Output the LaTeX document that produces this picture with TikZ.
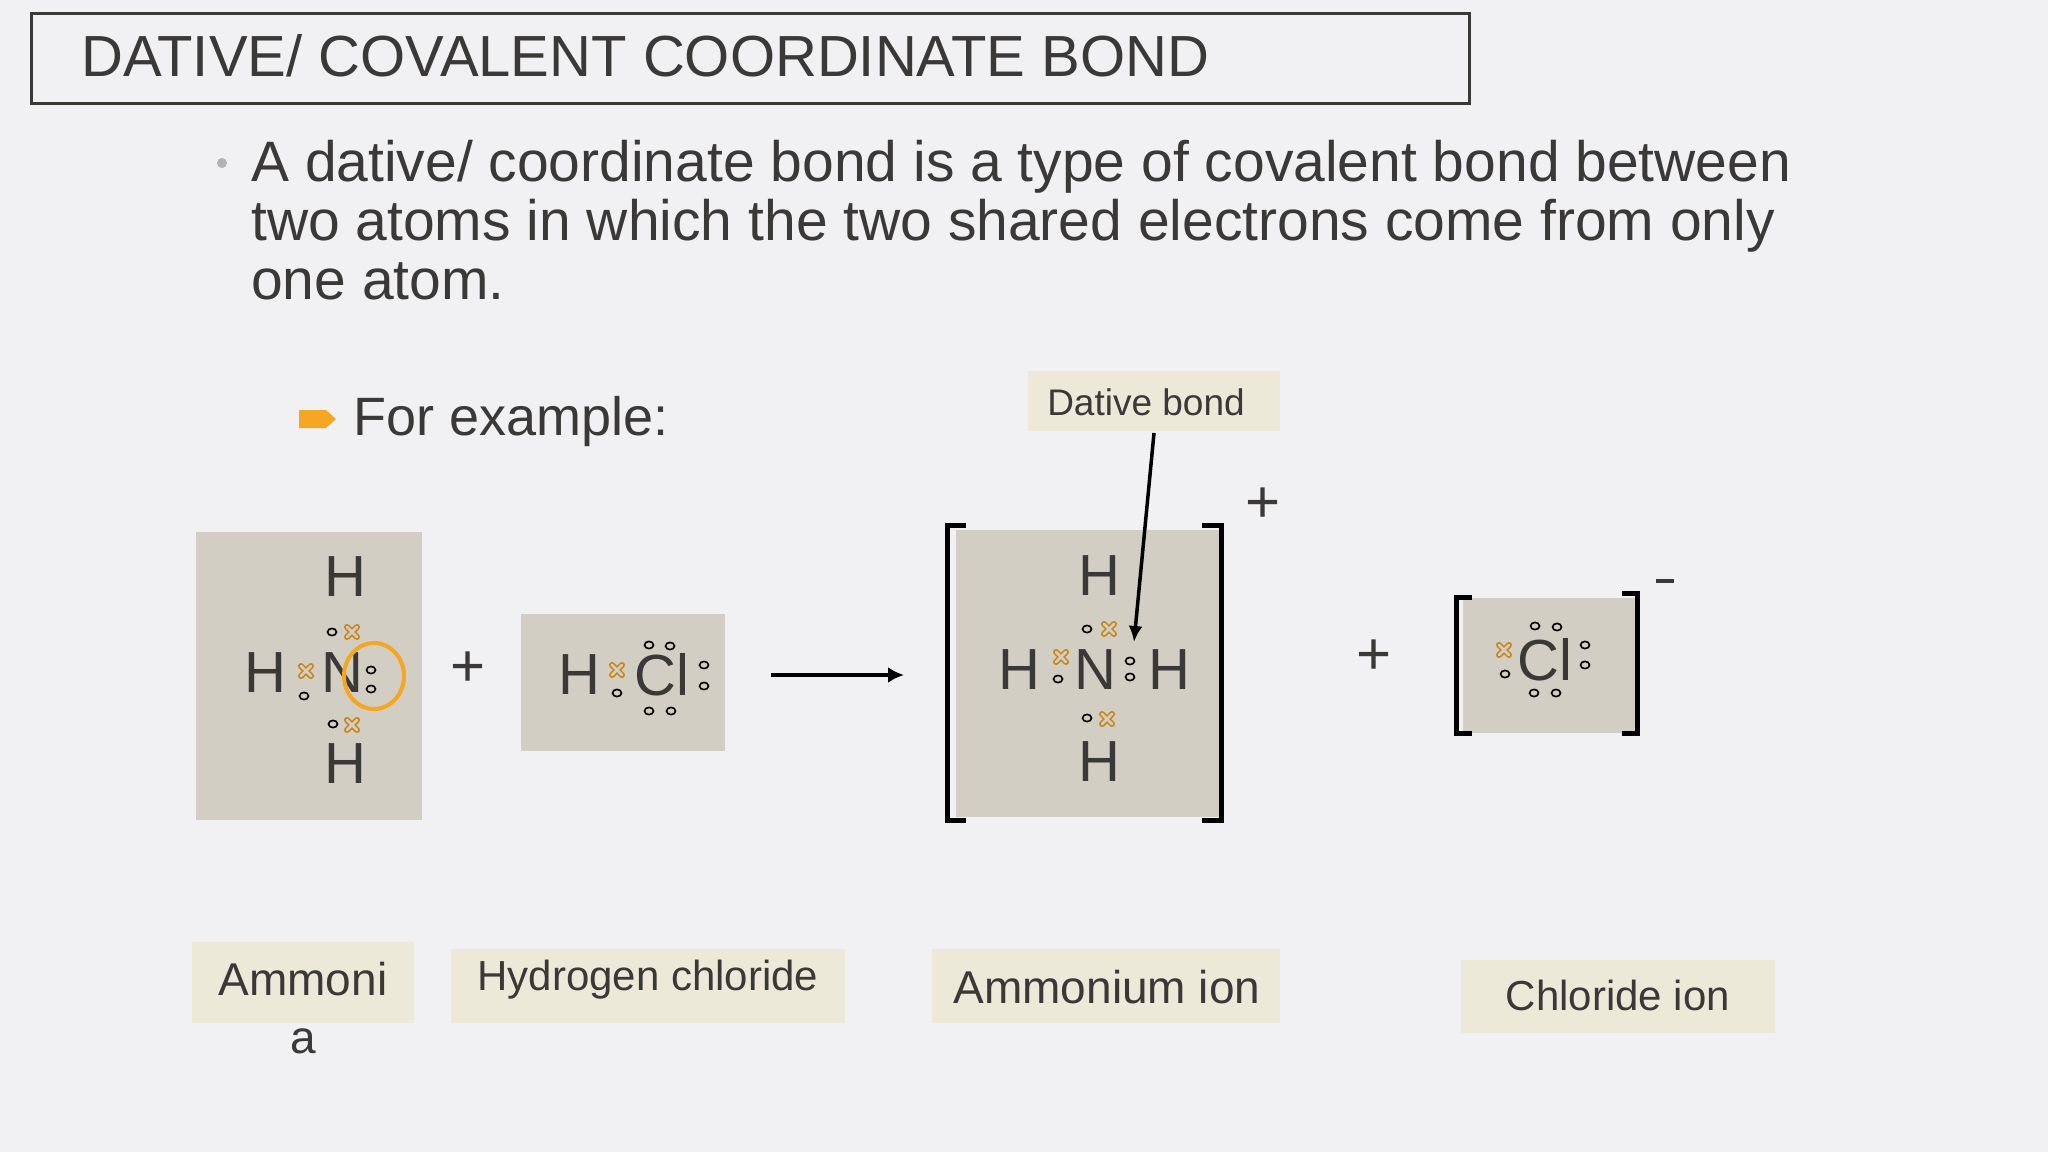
\documentclass[tikz,border=0pt]{standalone}
\usepackage{fontspec}
\setmainfont{Liberation Sans}
\usetikzlibrary{arrows.meta}
\definecolor{bg}{HTML}{F1F0F2}
\definecolor{boxc}{HTML}{D3CEC3}
\definecolor{lab}{HTML}{EDE9D8}
\definecolor{txt}{HTML}{3B3838}
\definecolor{orng}{HTML}{F5A623}
\definecolor{xorng}{HTML}{C8861B}
\tikzset{
 atom/.style={text=txt,font=\fontsize{58}{58}\selectfont,inner sep=0pt},
 elec/.style={draw=black,line width=1.6pt},
 labbox/.style={fill=lab,inner sep=0pt},
 labtxt/.style={text=txt,inner sep=0pt},
 brk/.style={line width=5pt,black},
 pics/xel/.style={code={
   \draw[xorng,line width=6pt,line cap=round] (-5,-5)--(5,5) (-5,5)--(5,-5);
   \draw[boxc,line width=2.6pt,line cap=round] (-5,-5)--(5,5) (-5,5)--(5,-5);}},
}
\newcommand{\eo}[1]{\draw[elec] #1 ellipse (4.5pt and 3.6pt);}
\begin{document}
\begin{tikzpicture}[x=1pt,y=-1pt]
\fill[bg] (0,0) rectangle (2048,1152);
\useasboundingbox (0,0) rectangle (2048,1152);
% title
\node[draw=txt,line width=3pt,minimum width=1438,minimum height=90,inner sep=0pt] (tb) at (750,58) {};
\node[anchor=west,text=txt,font=\fontsize{58}{58}\selectfont,inner sep=0pt] (title) at (81,56) {DATIVE/ COVALENT COORDINATE BOND};
% bullet
\fill[gray!60] (222,163) circle (5);
\node[anchor=north west,align=left,text=txt,font=\fontsize{57}{59}\selectfont,inner sep=0pt] (body) at (251,140)
 {A dative/ coordinate bond is a type of covalent bond between\\two atoms in which the two shared electrons come from only\\one atom.};
\fill[orng] (299,410) -- (326,410) -- (336,419) -- (326,428) -- (299,428) -- cycle;
\node[anchor=west,text=txt,font=\fontsize{54}{54}\selectfont,inner sep=0pt] (ex) at (353,422) {For example:};
% dative bond label
\node[labbox,minimum width=252,minimum height=60] (dbox) at (1154,401) {};
\node[labtxt,font=\fontsize{37}{37}\selectfont] (dtxt) at (1146,402) {Dative bond};
% ammonia
\fill[boxc] (196,532) rectangle (422,820);
\node[atom] (n1) at (342,673) {N};
\node[atom] (h1t) at (345,577) {H};
\node[atom] (h1l) at (265,673) {H};
\node[atom] (h1b) at (345,764) {H};
\eo{(332,632)} \pic at (352,632) {xel};
\pic at (306,671) {xel}; \eo{(304,696)}
\eo{(371,670)} \eo{(371,689)}
\eo{(333,724)} \pic at (352,725) {xel};
\draw[orng,line width=4pt] (374,676) ellipse (30 and 33);
\node[text=txt,font=\fontsize{60}{60}\selectfont,inner sep=0pt] (p1) at (468,669) {+};
% HCl
\fill[boxc] (521,614) rectangle (725,751);
\node[atom] (h2) at (579,675) {H};
\node[atom] (cl2) at (662,675) {Cl};
\pic at (617,670) {xel}; \eo{(617,693)}
\eo{(649,645)} \eo{(670,646)} \eo{(649,711)} \eo{(671,711)}
\eo{(704,665)} \eo{(704,686)}
% reaction arrow
\coordinate (a1) at (771,675); \coordinate (a2) at (904,675);
\draw[line width=3.5pt,-{Latex[length=16pt,width=16pt]}] (a1) -- (a2);
% ammonium
\fill[boxc] (956,530) rectangle (1220,817);
\draw[brk] (966,525) -- (947,525) -- (947,820) -- (966,820);
\draw[brk] (1202,525) -- (1221,525) -- (1221,820) -- (1202,820);
\node[atom] (n3) at (1095,670) {N};
\node[atom] (h3t) at (1099,576) {H};
\node[atom] (h3l) at (1019,670) {H};
\node[atom] (h3r) at (1169,670) {H};
\node[atom] (h3b) at (1099,762) {H};
\eo{(1087,629)} \pic at (1109,629) {xel};
\pic at (1061,657) {xel}; \eo{(1058,679)}
\eo{(1130,661)} \eo{(1130,677)}
\eo{(1087,718)} \pic at (1107,719) {xel};
\node[text=txt,font=\fontsize{60}{60}\selectfont,inner sep=0pt] (p2) at (1263,505) {+};
\coordinate (d0) at (1154,433); \coordinate (d1) at (1134,642);
\draw[line width=3.5pt,-{Latex[length=16pt,width=14pt]}] (d0) -- (d1);
\node[text=txt,font=\fontsize{60}{60}\selectfont,inner sep=0pt] (p3) at (1374,657) {+};
% chloride
\fill[boxc] (1463,598) rectangle (1637,733);
\draw[brk] (1472,597) -- (1456,597) -- (1456,733) -- (1472,733);
\draw[brk] (1622,593) -- (1637,593) -- (1637,733) -- (1622,733);
\node[atom] (cl4) at (1545,660) {Cl};
\pic at (1504,650) {xel}; \eo{(1505,674)}
\eo{(1535,626)} \eo{(1557,627)} \eo{(1534,693)} \eo{(1556,693)}
\eo{(1585,645)} \eo{(1585,665)}
\draw[line width=4pt,txt] (1656,581) -- (1674,581);
% labels
\node[labbox,minimum width=222,minimum height=81] (l1) at (303,982) {};
\node[labtxt,font=\fontsize{46}{58}\selectfont,align=center] (l1t) at (303,1008) {Ammoni\\a};
\node[labbox,minimum width=394,minimum height=74] (l2) at (648,986) {};
\node[labtxt,font=\fontsize{42}{42}\selectfont] (l2t) at (648,980) {Hydrogen chloride};
\node[labbox,minimum width=348,minimum height=74] (l3) at (1106,986) {};
\node[labtxt,font=\fontsize{46}{46}\selectfont] (l3t) at (1107,987) {Ammonium ion};
\node[labbox,minimum width=314,minimum height=73] (l4) at (1618,996) {};
\node[labtxt,font=\fontsize{42}{42}\selectfont] (l4t) at (1618,995) {Chloride ion};
\end{tikzpicture}
\end{document}
